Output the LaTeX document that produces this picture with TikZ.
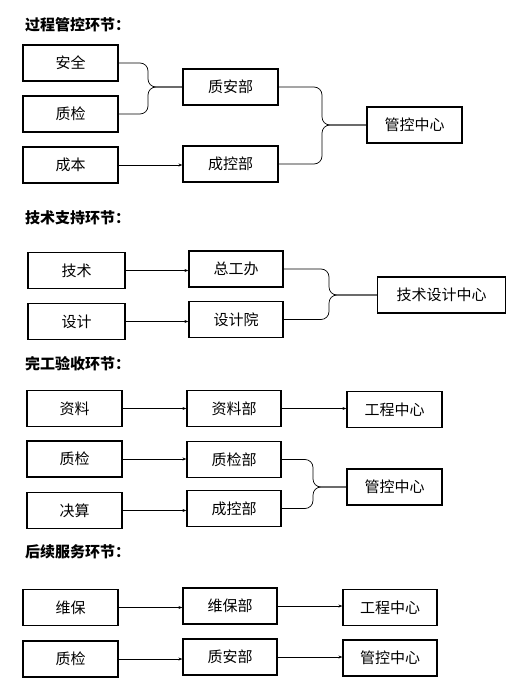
\documentclass[tikz,border=0pt]{standalone}
\usepackage{fontspec}
\setmainfont{Noto Sans CJK SC}
\usetikzlibrary{arrows.meta}
\tikzset{
  unit/.style={draw, line width=1.2pt, minimum width=95pt, minimum height=36pt, inner sep=0pt, font=\fontsize{15}{17}\selectfont},
  stage/.style={anchor=west, inner sep=0pt, font=\fontsize{15}{17}\selectfont\bfseries},
  flow/.style={-{Stealth[length=4pt,width=3pt]}, line width=0.7pt},
  merge/.style={line width=0.7pt, rounded corners=8pt},
}
\begin{document}
\begin{tikzpicture}[x=1pt, y=-1pt]
\useasboundingbox (0,0) rectangle (526,684);

\node[stage] (t1) at (25,25) {过程管控环节：};
\node[unit] (a) at (70.5,63) {安全};
\node[unit] (b) at (70.5,114) {质检};
\node[unit] (c) at (70.5,165) {成本};
\node[unit] (d) at (230.5,87) {质安部};
\node[unit] (e) at (230.5,164) {成控部};
\node[unit] (f) at (414.5,125) {管控中心};
\coordinate (j1) at (148,87);
\coordinate (j2) at (322,125);
\draw[merge] (a.east) -| (j1) -- (d.west);
\draw[merge] (b.east) -| (j1) -- (d.west);
\draw[flow] (c) -- (c -| e.west);
\draw[merge] (d.east) -| (j2) -- (f.west);
\draw[merge] (e.east) -| (j2) -- (f.west);

\node[stage] (t2) at (25,218) {技术支持环节：};
\node[unit, minimum width=97pt] (g) at (76.5,270.5) {技术};
\node[unit, minimum width=97pt] (h) at (76.5,321.5) {设计};
\node[unit, minimum width=94pt] (i) at (236,269) {总工办};
\node[unit, minimum width=94pt] (k) at (236,319.5) {设计院};
\node[unit, minimum width=128pt] (l) at (441.5,295) {技术设计中心};
\coordinate (j3) at (329,295);
\draw[flow] (g) -- (g -| i.west);
\draw[flow] (h) -- (h -| k.west);
\draw[merge] (i.east) -| (j3) -- (l.west);
\draw[merge] (k.east) -| (j3) -- (l.west);

\node[stage] (t3) at (25,364) {完工验收环节：};
\node[unit] (m) at (74.5,408.5) {资料};
\node[unit] (n) at (74.5,459) {质检};
\node[unit] (o) at (74.5,510.5) {决算};
\node[unit, minimum width=94pt] (p) at (234,408.5) {资料部};
\node[unit, minimum width=94pt] (q) at (234,459.5) {质检部};
\node[unit, minimum width=94pt] (r) at (234,508.5) {成控部};
\node[unit] (s) at (394.5,409.5) {工程中心};
\node[unit] (u) at (394.5,487) {管控中心};
\coordinate (j4) at (313,487);
\draw[flow] (m) -- (m -| p.west);
\draw[flow] (n) -- (n -| q.west);
\draw[flow] (o) -- (o -| r.west);
\draw[flow] (p) -- (p -| s.west);
\draw[merge] (q.east) -| (j4) -- (u.west);
\draw[merge] (r.east) -| (j4) -- (u.west);

\node[stage] (t4) at (25,552) {后续服务环节：};
\node[unit] (v) at (70.5,607.5) {维保};
\node[unit] (w) at (70.5,659) {质检};
\node[unit, minimum width=94pt] (x) at (230,606) {维保部};
\node[unit, minimum width=94pt] (y) at (230,657) {质安部};
\node[unit, minimum width=94pt] (z) at (390,607.5) {工程中心};
\node[unit, minimum width=94pt] (zz) at (390,658) {管控中心};
\draw[flow] (v) -- (v -| x.west);
\draw[flow] (w) -- (w -| y.west);
\draw[flow] (x) -- (x -| z.west);
\draw[flow] (y) -- (y -| zz.west);
\end{tikzpicture}
\end{document}
